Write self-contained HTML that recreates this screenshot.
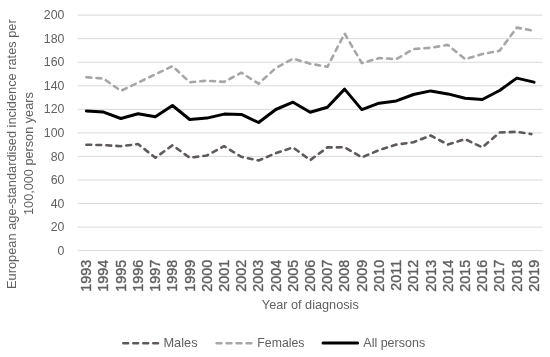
<!DOCTYPE html>
<html><head><meta charset="utf-8"><title>Incidence rates by year of diagnosis</title>
<style>
html,body{margin:0;padding:0;background:#fff;}
svg{display:block;font-family:"Liberation Sans",sans-serif;font-size:12.3px;fill:#606060;}
</style></head><body>
<svg width="550" height="357" viewBox="0 0 550 357">
<rect width="550" height="357" fill="#fff"/>
<g><line x1="77.8" x2="542.6" y1="250.65" y2="250.65" stroke="#d9d9d9" stroke-width="1"/><line x1="77.8" x2="542.6" y1="227.10" y2="227.10" stroke="#d9d9d9" stroke-width="1"/><line x1="77.8" x2="542.6" y1="203.55" y2="203.55" stroke="#d9d9d9" stroke-width="1"/><line x1="77.8" x2="542.6" y1="180.00" y2="180.00" stroke="#d9d9d9" stroke-width="1"/><line x1="77.8" x2="542.6" y1="156.45" y2="156.45" stroke="#d9d9d9" stroke-width="1"/><line x1="77.8" x2="542.6" y1="132.90" y2="132.90" stroke="#d9d9d9" stroke-width="1"/><line x1="77.8" x2="542.6" y1="109.35" y2="109.35" stroke="#d9d9d9" stroke-width="1"/><line x1="77.8" x2="542.6" y1="85.80" y2="85.80" stroke="#d9d9d9" stroke-width="1"/><line x1="77.8" x2="542.6" y1="62.25" y2="62.25" stroke="#d9d9d9" stroke-width="1"/><line x1="77.8" x2="542.6" y1="38.70" y2="38.70" stroke="#d9d9d9" stroke-width="1"/><line x1="77.8" x2="542.6" y1="15.15" y2="15.15" stroke="#d9d9d9" stroke-width="1"/></g>
<g><text x="64.4" y="254.7" text-anchor="end">0</text><text x="64.4" y="231.2" text-anchor="end">20</text><text x="64.4" y="207.6" text-anchor="end">40</text><text x="64.4" y="184.1" text-anchor="end">60</text><text x="64.4" y="160.5" text-anchor="end">80</text><text x="64.4" y="137.0" text-anchor="end">100</text><text x="64.4" y="113.4" text-anchor="end">120</text><text x="64.4" y="89.9" text-anchor="end">140</text><text x="64.4" y="66.3" text-anchor="end">160</text><text x="64.4" y="42.8" text-anchor="end">180</text><text x="64.4" y="19.2" text-anchor="end">200</text></g>
<g><text transform="translate(91.2,259.9) rotate(-90)" text-anchor="end" font-size="14.3" stroke="#595959" stroke-width="0.35">1993</text><text transform="translate(108.4,259.9) rotate(-90)" text-anchor="end" font-size="14.3" stroke="#595959" stroke-width="0.35">1994</text><text transform="translate(125.6,259.9) rotate(-90)" text-anchor="end" font-size="14.3" stroke="#595959" stroke-width="0.35">1995</text><text transform="translate(142.9,259.9) rotate(-90)" text-anchor="end" font-size="14.3" stroke="#595959" stroke-width="0.35">1996</text><text transform="translate(160.1,259.9) rotate(-90)" text-anchor="end" font-size="14.3" stroke="#595959" stroke-width="0.35">1997</text><text transform="translate(177.3,259.9) rotate(-90)" text-anchor="end" font-size="14.3" stroke="#595959" stroke-width="0.35">1998</text><text transform="translate(194.5,259.9) rotate(-90)" text-anchor="end" font-size="14.3" stroke="#595959" stroke-width="0.35">1999</text><text transform="translate(211.7,259.9) rotate(-90)" text-anchor="end" font-size="14.3" stroke="#595959" stroke-width="0.35">2000</text><text transform="translate(228.9,259.9) rotate(-90)" text-anchor="end" font-size="14.3" stroke="#595959" stroke-width="0.35">2001</text><text transform="translate(246.1,259.9) rotate(-90)" text-anchor="end" font-size="14.3" stroke="#595959" stroke-width="0.35">2002</text><text transform="translate(263.4,259.9) rotate(-90)" text-anchor="end" font-size="14.3" stroke="#595959" stroke-width="0.35">2003</text><text transform="translate(280.6,259.9) rotate(-90)" text-anchor="end" font-size="14.3" stroke="#595959" stroke-width="0.35">2004</text><text transform="translate(297.8,259.9) rotate(-90)" text-anchor="end" font-size="14.3" stroke="#595959" stroke-width="0.35">2005</text><text transform="translate(315.0,259.9) rotate(-90)" text-anchor="end" font-size="14.3" stroke="#595959" stroke-width="0.35">2006</text><text transform="translate(332.2,259.9) rotate(-90)" text-anchor="end" font-size="14.3" stroke="#595959" stroke-width="0.35">2007</text><text transform="translate(349.4,259.9) rotate(-90)" text-anchor="end" font-size="14.3" stroke="#595959" stroke-width="0.35">2008</text><text transform="translate(366.6,259.9) rotate(-90)" text-anchor="end" font-size="14.3" stroke="#595959" stroke-width="0.35">2009</text><text transform="translate(383.9,259.9) rotate(-90)" text-anchor="end" font-size="14.3" stroke="#595959" stroke-width="0.35">2010</text><text transform="translate(401.1,259.9) rotate(-90)" text-anchor="end" font-size="14.3" stroke="#595959" stroke-width="0.35">2011</text><text transform="translate(418.3,259.9) rotate(-90)" text-anchor="end" font-size="14.3" stroke="#595959" stroke-width="0.35">2012</text><text transform="translate(435.5,259.9) rotate(-90)" text-anchor="end" font-size="14.3" stroke="#595959" stroke-width="0.35">2013</text><text transform="translate(452.7,259.9) rotate(-90)" text-anchor="end" font-size="14.3" stroke="#595959" stroke-width="0.35">2014</text><text transform="translate(469.9,259.9) rotate(-90)" text-anchor="end" font-size="14.3" stroke="#595959" stroke-width="0.35">2015</text><text transform="translate(487.1,259.9) rotate(-90)" text-anchor="end" font-size="14.3" stroke="#595959" stroke-width="0.35">2016</text><text transform="translate(504.4,259.9) rotate(-90)" text-anchor="end" font-size="14.3" stroke="#595959" stroke-width="0.35">2017</text><text transform="translate(521.6,259.9) rotate(-90)" text-anchor="end" font-size="14.3" stroke="#595959" stroke-width="0.35">2018</text><text transform="translate(538.8,259.9) rotate(-90)" text-anchor="end" font-size="14.3" stroke="#595959" stroke-width="0.35">2019</text></g>
<text transform="translate(16.4,154.1) rotate(-90)" text-anchor="middle" font-size="12.8">European age-standardised incidence rates per</text>
<text transform="translate(33.3,153.6) rotate(-90)" text-anchor="middle" font-size="12.7">100,000 person years</text>
<text x="310.3" y="309.2" text-anchor="middle" font-size="12.7">Year of diagnosis</text>
<polyline points="86.4,144.7 103.6,145.1 120.8,146.2 138.1,144.1 155.3,157.7 172.5,145.3 189.7,157.7 206.9,155.5 224.1,146.2 241.3,156.8 258.6,160.5 275.8,153.2 293.0,147.4 310.2,160.1 327.4,147.4 344.6,147.3 361.8,157.4 379.1,150.1 396.3,144.6 413.5,142.2 430.7,135.5 447.9,144.6 465.1,139.1 482.3,147.4 499.6,132.5 516.8,131.8 531.4,134.1" fill="none" stroke="#5f5a5a" stroke-width="2.6" stroke-dasharray="4.8 5.2" stroke-linecap="round" stroke-linejoin="round"/>
<polyline points="86.4,77.2 103.6,78.6 120.8,90.9 138.1,82.6 155.3,74.3 172.5,66.1 189.7,82.3 206.9,80.7 224.1,81.9 241.3,72.7 258.6,83.7 275.8,68.0 293.0,58.6 310.2,63.7 327.4,66.8 344.6,33.5 361.8,63.1 379.1,58.1 396.3,59.1 413.5,49.1 430.7,47.8 447.9,44.9 465.1,59.2 482.3,54.0 499.6,50.8 516.8,27.6 534.0,30.8" fill="none" stroke="#a8a5a5" stroke-width="2.6" stroke-dasharray="4.8 5.2" stroke-linecap="round" stroke-linejoin="round"/>
<polyline points="86.4,111.0 103.6,112.1 120.8,118.5 138.1,113.7 155.3,116.8 172.5,105.5 189.7,119.5 206.9,118.1 224.1,114.1 241.3,114.4 258.6,122.5 275.8,109.5 293.0,102.2 310.2,112.2 327.4,107.2 344.6,89.1 361.8,109.6 379.1,103.2 396.3,100.9 413.5,94.5 430.7,90.9 447.9,93.9 465.1,98.2 482.3,99.5 499.6,90.5 516.8,78.1 534.0,82.1" fill="none" stroke="#000" stroke-width="3" stroke-linejoin="round" stroke-linecap="round"/>
<line x1="123.3" x2="158" y1="343.2" y2="343.2" stroke="#5f5a5a" stroke-width="2.6" stroke-dasharray="4.8 5.2" stroke-linecap="round"/>
<text x="163.4" y="347.4" font-size="12.8">Males</text>
<line x1="216.6" x2="251.3" y1="343.2" y2="343.2" stroke="#a8a5a5" stroke-width="2.6" stroke-dasharray="4.8 5.2" stroke-linecap="round"/>
<text x="257.3" y="347.4" font-size="12.3">Females</text>
<line x1="323" x2="357.6" y1="343.1" y2="343.1" stroke="#000" stroke-width="3" stroke-linecap="round"/>
<text x="363.3" y="347.4" font-size="12.5">All persons</text>
</svg>
</body></html>
